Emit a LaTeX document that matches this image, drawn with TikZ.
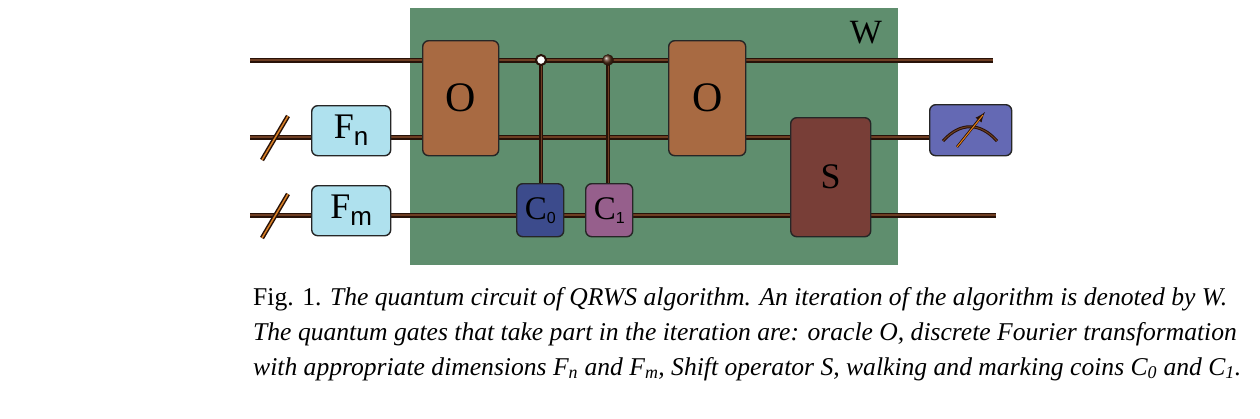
\documentclass[tikz,border=0pt]{standalone}
\usepackage{fontspec}
\setmainfont{Liberation Serif}
\newfontfamily\subsans{Liberation Sans}
\begin{document}
\begin{tikzpicture}[x=1pt,y=-1pt,
  wire/.style={line width=5pt,draw=wireD},
  wirec/.style={line width=1.3pt,draw=wireL},
  gate/.style={draw=black!85,line width=1.4pt,rounded corners=6pt,anchor=north west,inner sep=0pt,font=\fontsize{36}{36}\selectfont},
  lbl/.style={inner sep=0pt,anchor=base west,font=\fontsize{25.6}{25.6}\selectfont}]
\definecolor{wireD}{RGB}{40,18,8}
\definecolor{wireL}{RGB}{110,62,35}
\definecolor{grn}{RGB}{95,142,110}
\definecolor{obox}{RGB}{168,106,66}
\definecolor{fbox}{RGB}{175,225,238}
\definecolor{cz}{RGB}{60,75,140}
\definecolor{co}{RGB}{150,95,140}
\definecolor{sbox}{RGB}{120,62,55}
\definecolor{mbox}{RGB}{100,105,180}
\useasboundingbox (0,0) rectangle (1260,418);
\fill[grn] (410,8) rectangle (898,265);
\node[font=\fontsize{34}{34}\selectfont] (W) at (866,33) {W};
% wires
\coordinate (t0) at (250,60); \coordinate (t1) at (993,60);
\coordinate (m0) at (250,137); \coordinate (m1) at (932,137);
\coordinate (b0) at (250,215); \coordinate (b1) at (996,215);
\foreach \a/\b in {t0/t1,m0/m1,b0/b1}{\draw[wire] (\a)--(\b); \draw[wirec] (\a)--(\b);}
% controls
\coordinate (k0) at (541,60); \coordinate (k1) at (608,60);
\draw[wire,line width=4pt] (k0)--(541,190); \draw[wirec,line width=1pt] (k0)--(541,190);
\draw[wire,line width=4pt] (k1)--(608,190); \draw[wirec,line width=1pt] (k1)--(608,190);
\draw[wireD,line width=2pt,fill=white] (k0) circle (5pt);
\shade[ball color=wireL!80!black,draw=wireD] (k1) circle (5.5pt);
% slashes
\draw[line width=4.5pt,draw=wireD] (262,160)--(288,116);
\draw[line width=1.5pt,draw=orange!40!brown] (262,160)--(288,116);
\draw[line width=4.5pt,draw=wireD] (262,238)--(288,194);
\draw[line width=1.5pt,draw=orange!40!brown] (262,238)--(288,194);
% gates
\node[gate,fill=fbox,minimum width=79pt,minimum height=50pt] (Fn) at (311,105) {F\raisebox{-7pt}{\subsans\fontsize{26}{26}\selectfont n}};
\node[gate,fill=fbox,minimum width=79pt,minimum height=50pt] (Fm) at (311,185) {F\raisebox{-7pt}{\subsans\fontsize{26}{26}\selectfont m}};
\node[gate,fill=obox,minimum width=76pt,minimum height=115pt,font=\fontsize{42}{42}\selectfont] (O1) at (422,40) {O};
\node[gate,fill=obox,minimum width=77pt,minimum height=115pt,font=\fontsize{42}{42}\selectfont] (O2) at (668,40) {O};
\node[gate,fill=cz,minimum width=47pt,minimum height=53pt,font=\fontsize{33}{33}\selectfont] (C0) at (516,183) {C\raisebox{-4pt}{\subsans\fontsize{16}{16}\selectfont 0}};
\node[gate,fill=co,minimum width=47pt,minimum height=53pt,font=\fontsize{33}{33}\selectfont] (C1) at (585,183) {C\raisebox{-4pt}{\subsans\fontsize{16}{16}\selectfont 1}};
\node[gate,fill=sbox,minimum width=80pt,minimum height=119pt] (S) at (790,117) {S};
\node[gate,fill=mbox,minimum width=82pt,minimum height=51pt] (M) at (929,104) {};
\draw[line width=3pt,wireD] (943,141) .. controls (960,122) and (980,122) .. (997,141);
\draw[line width=1pt,wireL] (943,141) .. controls (960,122) and (980,122) .. (997,141);
\draw[line width=2.5pt,wireD,-latex] (957,147)--(985,112);
\draw[line width=1pt,orange!60!brown] (957,147)--(983,115);
% caption
\node[lbl] (cap1) at (253,305) {Fig. 1. \textit{The quantum circuit of QRWS algorithm. An iteration of the algorithm is denoted by W.}};
\node[lbl] (cap2) at (253,340) {\textit{The quantum gates that take part in the iteration are: oracle O, discrete Fourier transformation}};
\node[lbl] (cap3) at (253,375) {\textit{with appropriate dimensions F\textsubscript{n} and F\textsubscript{m}, Shift operator S, walking and marking coins C\textsubscript{0} and C\textsubscript{1}.}};
\end{tikzpicture}
\end{document}
